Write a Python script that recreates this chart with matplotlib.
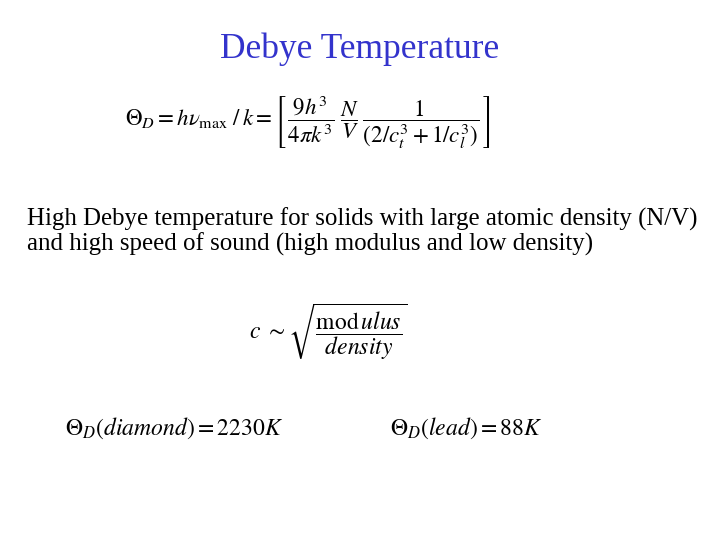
import matplotlib
matplotlib.use("Agg")
import matplotlib.pyplot as plt

plt.rcParams["mathtext.fontset"] = "stix"
plt.rcParams["font.family"] = ["Liberation Serif", "DejaVu Serif"]

title = "Debye Temperature"
body_lines = [
    "High Debye temperature for solids with large atomic density (N/V)",
    "and high speed of sound (high modulus and low density)",
]
materials = ["diamond", "lead"]
theta_values = [2230, 88]

eq_debye = (r"$\Theta_D = h\nu_{\max}\ /\,k = \left[\,\dfrac{9h^3}{4\pi k^3}\;"
            r"\dfrac{N}{V}\;\dfrac{1}{(2/c_t^3+1/c_l^3)}\,\right]$")
eq_sound = r"$c\ \sim\sqrt{\dfrac{\mathrm{mod}\,ulus}{density}}$"

fig = plt.figure(figsize=(7.2, 5.4), dpi=100)
fig.patch.set_facecolor("white")

def px(x, y):
    return x / 720, 1 - y / 540

fig.text(*px(360, 58), title, ha="center", va="baseline",
         fontsize=25.5, color="#3333cc")

fig.text(*px(125, 122), eq_debye, ha="left", va="center", fontsize=16.5)

for i, line in enumerate(body_lines):
    fig.text(*px(27, 226 + i * 25), line, ha="left", va="baseline", fontsize=17.9)

fig.text(*px(249, 332), eq_sound, ha="left", va="center", fontsize=17)

x_pos = [65, 390]
for x, name, val in zip(x_pos, materials, theta_values):
    fig.text(*px(x, 428), r"$\Theta_D(%s) = %dK$" % (name, val),
             ha="left", va="center", fontsize=17)

fig.savefig("out.png", dpi=100)
